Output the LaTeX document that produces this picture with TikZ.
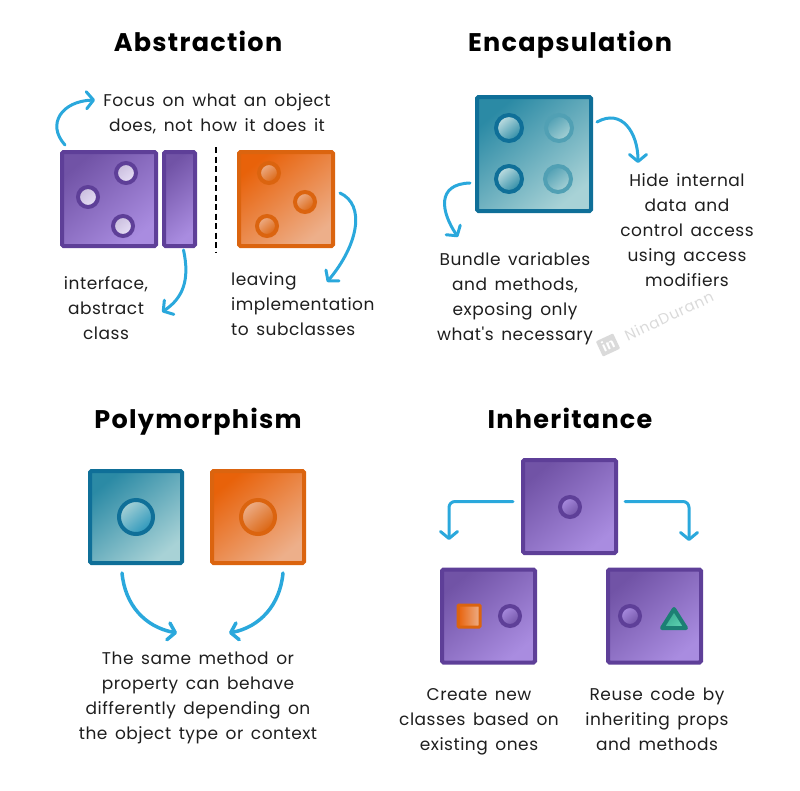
\documentclass[tikz,border=0pt]{standalone}
\usepackage{fontspec}
\usepackage{xcolor}
\newfontfamily\manina[LetterSpace=3, WordSpace=1.5]{Poppins}
\newfontfamily\maninatit[LetterSpace=5]{Poppins}
\usetikzlibrary{arrows.meta, positioning}
\definecolor{violaS}{HTML}{5E3F98}
\definecolor{violaA}{HTML}{7153A6}
\definecolor{violaB}{HTML}{A98CE0}
\definecolor{aranS}{HTML}{DB640F}
\definecolor{aranA}{HTML}{E8620A}
\definecolor{aranB}{HTML}{EDAF8A}
\definecolor{azzS}{HTML}{0F6F98}
\definecolor{azzA}{HTML}{2B8AA5}
\definecolor{azzB}{HTML}{A8D2D6}
\definecolor{verdeS}{HTML}{1C7F74}
\definecolor{verdeA}{HTML}{35A78F}
\definecolor{verdeB}{HTML}{5CD0B0}
\definecolor{freccia}{HTML}{2AA8DC}
\definecolor{scritta}{HTML}{1E1E1E}
\definecolor{marchio}{HTML}{DADADA}
\tikzset{
    grad/.style 2 args = {top color = #1, bottom color = #2, shading angle = 40},
    quadro/.style = {draw, line width = 4, rounded corners = 1.5, inner sep = 0, minimum size = #1},
    viola/.style = {draw = violaS, grad = {violaA}{violaB}},
    arancio/.style = {draw = aranS, grad = {aranA}{aranB}},
    azzurro/.style = {draw = azzS, grad = {azzA}{azzB}},
    pallino/.style = {circle, draw, line width = 4, inner sep = 0, minimum size = #1},
    freccia/.style = {draw = freccia, line width = 3, line cap = round, -{Straight Barb[length = 7, width = 17, round]}},
    testo/.style = {font = \manina\fontsize{17}{25}\selectfont, text = scritta, align = center, inner sep = 0},
    titolo/.style = {font = \maninatit\bfseries\fontsize{25.5}{30}\selectfont, text = black, inner sep = 0, anchor = base}
}
\begin{document}
\begin{tikzpicture}[x = 1pt, y = -1pt]
    \useasboundingbox (0,0) rectangle (800,790);
    % Abstraction
    \node[titolo] (tAbs) at (198,51) {Abstraction};
    \node[testo] (focus) at (217,114) {Focus on what an object\\does, not how it does it};
    \node[quadro = 94, viola] (interf) at (109,199) {};
    \node[draw, line width = 4, rounded corners = 1.5, inner sep = 0, minimum width = 31, minimum height = 94, viola] (sottile) at (179.5,199) {};
    \foreach \x/\y/\n in {126/173/a,88/197/b,123/226/c}{
        \node[pallino = 20, draw = violaS, grad = {white!62!violaA}{white!72!violaB}] (pv\n) at (\x,\y) {};
    }
    \coordinate (sepA) at (216,147);
    \coordinate (sepB) at (216,252);
    \draw[line width = 2.5, dash pattern = on 6 off 3.5] (sepA) -- (sepB);
    \node[quadro = 94, arancio] (impl) at (286,199) {};
    \foreach \x/\y/\n in {269/173/a,305/202/b,267/226/c}{
        \node[pallino = 20, draw = aranS, grad = {aranB}{aranS}] (po\n) at (\x,\y) {};
    }
    \node[testo] (lbInt) at (106,308) {interface,\\abstract\\class};
    \node[testo, anchor = west, align = left] (lbImp) at (231,304) {leaving\\implementation\\to subclasses};
    \coordinate (fAbs) at (95,100);
    \coordinate (fInt) at (162,312);
    \coordinate (fImp) at (327,282);
    \draw[freccia] ([xshift = 5, yshift = 5]interf.north west) .. controls (46,124) and (62,101) .. (fAbs);
    \draw[freccia] ([xshift = 4, yshift = -2]sottile.south) .. controls (190,280) and (183,298) .. (fInt);
    \draw[freccia] ([xshift = 5, yshift = 6]impl.east) .. controls (366,205) and (358,245) .. (fImp);
    % Encapsulation
    \node[titolo] (tEnc) at (570,51) {Encapsulation};
    \node[quadro = 114, azzurro] (capsula) at (534,154) {};
    \foreach \x/\y/\n in {509/128/a,509/179/b}{
        \node[pallino = 26, draw = azzS, grad = {azzB!70!white}{azzA}] (ps\n) at (\x,\y) {};
    }
    \foreach \x/\y/\n in {559/128/a,558/179/b}{
        \node[pallino = 26, draw = azzA!70!azzB, grad = {azzA!70!azzB}{azzB}] (pc\n) at (\x,\y) {};
    }
    \node[testo] (lbHide) at (687,230) {Hide internal\\data and\\control access\\using access\\modifiers};
    \node[testo] (lbBundle) at (515,299) {Bundle variables\\and methods,\\exposing only\\what's necessary};
    \coordinate (fHide) at (638,163);
    \coordinate (fBundle) at (458,237);
    \draw[freccia] ([xshift = 4, yshift = 32]capsula.east) .. controls (622,108) and (638,133) .. (fHide);
    \draw[freccia] ([xshift = -5, yshift = -29]capsula.west) .. controls (436,184) and (441,212) .. (fBundle);
    % marchio
    \node[fill = marchio, rounded corners = 1, text = white, rotate = 25, font = \sffamily\bfseries\fontsize{16}{16}\selectfont, inner sep = 3] (mIn) at (608,345) {in};
    \node[rotate = 25, text = marchio, font = \maninatit\fontsize{15}{15}\selectfont, inner sep = 0] (mNome) at (669,316) {NinaDurann};
    % Polymorphism
    \node[titolo] (tPol) at (198,428) {Polymorphism};
    \node[quadro = 92, azzurro] (qPolA) at (136,517) {};
    \node[quadro = 92, arancio] (qPolB) at (258,517) {};
    \node[pallino = 34, draw = azzS, grad = {azzB}{azzA!60!freccia}] (pPolA) at (136,517) {};
    \node[pallino = 34, draw = aranS, grad = {aranB}{aranS}] (pPolB) at (258,517) {};
    \node[testo] (lbPol) at (198,697.5) {The same method or\\property can behave\\differently depending on\\the object type or context};
    \coordinate (fPolA) at (177,633);
    \coordinate (fPolB) at (229,633);
    \draw[freccia, line width = 3.5] ([xshift = -14, yshift = -8]qPolA.south) .. controls (125,605) and (145,627) .. (fPolA);
    \draw[freccia, line width = 3.5] ([xshift = 25, yshift = -8]qPolB.south) .. controls (280,605) and (260,627) .. (fPolB);
    % Inheritance
    \node[titolo] (tInh) at (570,428) {Inheritance};
    \node[quadro = 93, viola] (padre) at (569.5,506.5) {};
    \node[quadro = 93, viola] (figlioA) at (488.5,616) {};
    \node[quadro = 93, viola] (figlioB) at (654.5,616) {};
    \foreach \x/\y/\n in {570/507/a,510/616/b,630/616/c}{
        \node[pallino = 20, draw = violaS, grad = {violaB}{violaA}] (pi\n) at (\x,\y) {};
    }
    \node[draw = aranS, line width = 3, rounded corners = 1, inner sep = 0, minimum size = 22, left color = aranA, right color = aranB] (nuovo) at (469,616) {};
    \draw[line width = 4, line join = round, draw = verdeS, grad = {verdeA}{verdeB}] (674,609) -- (662,628) -- (686,628) -- cycle;
    \node[testo] (lbNew) at (479,722) {Create new\\classes based on\\existing ones};
    \node[testo] (lbReuse) at (657,719) {Reuse code by\\inheriting props\\and methods};
    \coordinate (fNew) at (449,540);
    \coordinate (fReuse) at (689,541);
    \draw[freccia, rounded corners = 6] ([xshift = -8, yshift = 5]padre.west) -| (fNew);
    \draw[freccia, rounded corners = 6] ([xshift = 7, yshift = 5]padre.east) -| (fReuse);
\end{tikzpicture}
\end{document}
